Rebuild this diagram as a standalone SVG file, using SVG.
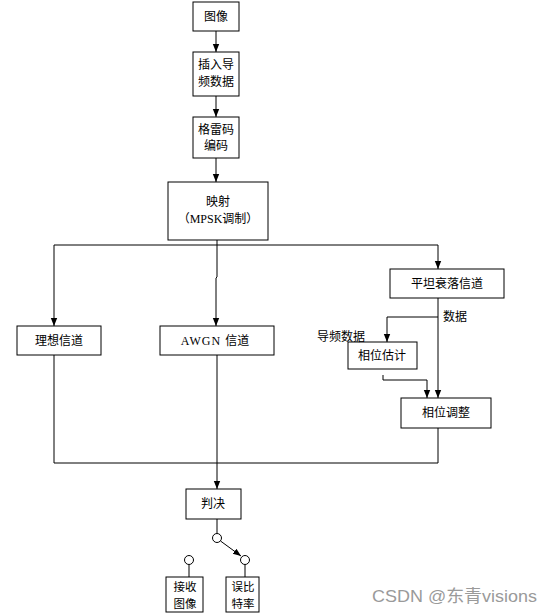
<svg xmlns="http://www.w3.org/2000/svg" width="552" height="615" viewBox="0 0 552 615">
<style>
.box{fill:#fff;stroke:#000;stroke-width:1}
.ln{fill:none;stroke:#000;stroke-width:1}
.t{font-family:"Noto Sans CJK SC","Liberation Sans",sans-serif;font-size:12px;fill:#000;text-anchor:middle}
.s{font-size:11.5px}
.tl{font-family:"Noto Sans CJK SC","Liberation Sans",sans-serif;font-size:12px;fill:#000}
.ser{font-family:"Liberation Serif","Noto Sans CJK SC",serif}
.dot{fill:#fff;stroke:#000;stroke-width:1}
</style>
<defs>
<marker id="ar" markerUnits="userSpaceOnUse" markerWidth="10" markerHeight="10" refX="8" refY="0" viewBox="0 -5 10 10" orient="auto">
<path d="M0,-3.2 L8,0 L0,3.2 z" fill="#000"/>
</marker>
</defs>
<rect width="552" height="615" fill="#fff"/>
<g id="connectors">
<line class="ln" x1="216" y1="31" x2="216" y2="52" marker-end="url(#ar)"/>
<line class="ln" x1="216" y1="96" x2="216" y2="117" marker-end="url(#ar)"/>
<line class="ln" x1="216" y1="158" x2="216" y2="182" marker-end="url(#ar)"/>
<polyline class="ln" points="217,240 217,277 216,278 216,326" marker-end="url(#ar)"/>
<polyline class="ln" points="54,245 438,245 438,269" marker-end="url(#ar)"/>
<line class="ln" x1="54" y1="245" x2="54" y2="326" marker-end="url(#ar)"/>
<line class="ln" x1="438" y1="298" x2="438" y2="398" marker-end="url(#ar)"/>
<polyline class="ln" points="438,317 387,317 387,342" marker-end="url(#ar)"/>
<polyline class="ln" points="383,375 383,380 427,380 427,398" marker-end="url(#ar)"/>
<polyline class="ln" points="54,355 54,463 438,463 438,428"/>
<line class="ln" x1="217" y1="355" x2="217" y2="489" marker-end="url(#ar)"/>
<line class="ln" x1="217" y1="519" x2="217" y2="533.5"/>
<line class="ln" x1="220.5" y1="541" x2="241" y2="556" marker-end="url(#ar)"/>
<line class="ln" x1="245" y1="564.5" x2="245" y2="577"/>
<line class="ln" x1="189" y1="564.5" x2="189" y2="577"/>
<circle class="dot" cx="217" cy="538" r="4.5"/>
<circle class="dot" cx="245" cy="560" r="4.5"/>
<circle class="dot" cx="189" cy="560" r="4.5"/>
</g>
<g id="n-image"><rect class="box" x="193" y="2" width="46" height="29"/><text class="t" x="216" y="21">图像</text></g>
<g id="n-pilot"><rect class="box" x="193" y="52" width="46" height="44"/><text class="t" x="216" y="69">插入导</text><text class="t" x="216" y="86">频数据</text></g>
<g id="n-gray"><rect class="box" x="193" y="117" width="46" height="41"/><text class="t" x="216" y="134">格雷码</text><text class="t" x="216" y="150">编码</text></g>
<g id="n-map"><rect class="box" x="168" y="182" width="100" height="58"/><text class="t" x="218" y="206">映射</text><text class="t" x="218" y="223"><tspan class="ser">（MPSK</tspan>调制）</text></g>
<g id="n-ideal"><rect class="box" x="17" y="326" width="84" height="29"/><text class="t" x="59" y="345">理想信道</text></g>
<g id="n-awgn"><rect class="box" x="160" y="326" width="114" height="29"/><text class="t" x="215" y="345"><tspan class="ser" letter-spacing="1">AWGN </tspan>信道</text></g>
<g id="n-flat"><rect class="box" x="390" y="269" width="114" height="29"/><text class="t" x="447" y="288">平坦衰落信道</text></g>
<g id="n-est"><rect class="box" x="348" y="342" width="69" height="27"/><text class="t" x="382" y="360">相位估计</text></g>
<g id="n-adj"><rect class="box" x="401" y="398" width="90" height="30"/><text class="t" x="446" y="417">相位调整</text></g>
<g id="n-dec"><rect class="box" x="186" y="489" width="55" height="30"/><text class="t" x="213" y="508">判决</text></g>
<g id="n-recv"><rect class="box" x="166" y="577" width="37" height="35"/><text class="t s" x="185" y="591">接收</text><text class="t s" x="185" y="607.5">图像</text></g>
<g id="n-ber"><rect class="box" x="226" y="577" width="33" height="35"/><text class="t s" x="243" y="591">误比</text><text class="t s" x="243" y="607.5">特率</text></g>
<g id="labels">
<text class="tl" x="443" y="321">数据</text>
<text class="tl" x="317" y="341">导频数据</text>
</g>
<text x="372" y="602" font-family="'Liberation Sans','Noto Sans CJK SC',sans-serif" font-size="17px" fill="#9a9a9a" textLength="165" lengthAdjust="spacingAndGlyphs">CSDN @东青visions</text>
</svg>
